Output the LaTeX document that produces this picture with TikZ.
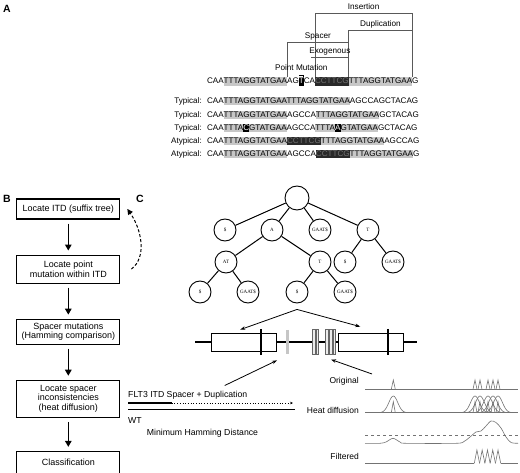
\documentclass[tikz,border=0pt]{standalone}
\usepackage{fontspec}
\setmainfont{Liberation Sans}
\newfontfamily\treefont{Liberation Serif}
\usetikzlibrary{positioning,arrows.meta}

\definecolor{repeatgray}{gray}{0.78}
\definecolor{exogray}{gray}{0.16}
\definecolor{plotgray}{gray}{0.45}

\begin{document}
\begin{tikzpicture}[
    x=1pt, y=-1pt,
    seq/.style={inner xsep=0pt, inner ysep=0.6pt, outer sep=0pt, anchor=west,
      font=\fontsize{8.1}{9}\selectfont, text height=5.9pt, text depth=1pt},
    after/.style={anchor=base west, at=(#1.base east)},
    rep/.style={seq, fill=repeatgray},
    exo/.style={seq, fill=exogray, text=black!55},
    pmut/.style={seq, fill=black, text=white},
    rowlab/.style={anchor=base east, inner sep=0pt, font=\fontsize{8.1}{9}\selectfont},
    lab/.style={inner sep=2pt, text depth=1.5pt, text=black, font=\fontsize{8.2}{9}\selectfont},
    bracket/.style={black!65, line width=0.6pt},
    panel/.style={font=\fontsize{10.5}{12}\selectfont\bfseries, inner sep=0pt},
    box/.style={rectangle, draw, line width=1.1pt, minimum width=103pt, align=center,
      inner sep=2pt, font=\fontsize{9}{9.5}\selectfont},
    flow/.style={-{Triangle[length=6pt,width=6.5pt]}, line width=1.3pt, shorten <=4pt, shorten >=4pt},
    loopback/.style={-{Triangle[length=5.5pt,width=5.5pt]}, line width=1pt, dash pattern=on 3pt off 2pt},
    tnode/.style={circle, draw, line width=0.9pt, minimum size=22pt, inner sep=0pt,
      font=\treefont\fontsize{5}{5}\selectfont},
    treeedge/.style={line width=1pt},
    ptr/.style={-{Stealth[length=5pt,width=3.5pt]}, line width=0.8pt},
    exon/.style={draw, line width=0.7pt, fill=white, minimum width=65pt, minimum height=18pt, inner sep=0pt},
    sig/.style={plotgray, line width=0.6pt},
    sublab/.style={inner sep=0pt, font=\fontsize{8.7}{10}\selectfont},
    plotlab/.style={anchor=east, inner sep=0pt, font=\fontsize{8.5}{10}\selectfont}
  ]

\useasboundingbox (0,0) rectangle (520,473);

% Panel letters
\node[panel] (pa) at (7,9) {A};
\node[panel] (pb) at (7,199) {B};
\node[panel] (pc) at (140,199) {C};

% Sequence with the ITD
\node[seq, anchor=base west] (m1) at (207,84) {CAA};
\node[rep, after=m1] (m2) {TTTAGGTATGAA};
\node[seq, after=m2] (m3) {AG};
\node[pmut, after=m3] (m4) {T};
\node[seq, after=m4] (m5) {CA};
\node[exo, after=m5] (m6) {CCTTCG};
\node[rep, after=m6] (m7) {TTTAGGTATGAA};
\node[seq, after=m7] (m8) {G};
\fill (m4.north west) rectangle ([yshift=2.5pt]m4.north east);
\draw[white, line width=0.4pt] ([xshift=0.6pt,yshift=1.2pt]m4.north west) -- ([xshift=-0.6pt,yshift=1.2pt]m4.north east);

% Brackets above the sequence
\coordinate (lvins) at (0,13.3);
\coordinate (lvdup) at (0,30.7);
\coordinate (lvspc) at (0,42.7);
\coordinate (lvexo) at (0,57.3);
\draw[bracket] (m6.north west) -- (m6.north west |- lvins) -- (m7.north east |- lvins) node[lab, midway, above] (tins) {Insertion} -- (m7.north east);
\draw[bracket] (m7.north west) -- (m7.north west |- lvdup) -- (m7.north east |- lvdup) node[lab, midway, above] (tdup) {Duplication};
\draw[bracket] (m3.north west) -- (m3.north west |- lvspc) -- (m6.north east |- lvspc) node[lab, midway, above] (tspc) {Spacer};
\draw[bracket] (m6.north west |- lvexo) ++(-4,0) -- (m6.north east |- lvexo) node[lab, midway, above] (texo) {Exogenous};
\node[lab, above=3pt of m4.north] (tpm) {Point Mutation};

% Typical and atypical reads
\node[rowlab] (lt1) at (202,103.9) {Typical:};
\node[seq, anchor=base west] (a1) at (207,103.9) {CAA};
\node[rep, after=a1] (a2) {TTTAGGTATGAATTTAGGTATGAA};
\node[seq, after=a2] (a3) {AGCCAGCTACAG};

\node[rowlab] (lt2) at (202,117.2) {Typical:};
\node[seq, anchor=base west] (b1) at (207,117.2) {CAA};
\node[rep, after=b1] (b2) {TTTAGGTATGAA};
\node[seq, after=b2] (b3) {AGCCA};
\node[rep, after=b3] (b4) {TTTAGGTATGAA};
\node[seq, after=b4] (b5) {GCTACAG};

\node[rowlab] (lt3) at (202,130.4) {Typical:};
\node[seq, anchor=base west] (c1) at (207,130.4) {CAA};
\node[rep, after=c1] (c2) {TTTA};
\node[pmut, after=c2] (c3) {C};
\node[rep, after=c3] (c4) {GTATGAA};
\node[seq, after=c4] (c5) {AGCCA};
\node[rep, after=c5] (c6) {TTTA};
\node[pmut, after=c6] (c7) {A};
\node[rep, after=c7] (c8) {GTATGAA};
\node[seq, after=c8] (c9) {GCTACAG};

\node[rowlab] (lt4) at (202,143.7) {Atypical:};
\node[seq, anchor=base west] (d1) at (207,143.7) {CAA};
\node[rep, after=d1] (d2) {TTTAGGTATGAA};
\node[exo, after=d2] (d3) {CCTTCG};
\node[rep, after=d3] (d4) {TTTAGGTATGAA};
\node[seq, after=d4] (d5) {AGCCAG};

\node[rowlab] (lt5) at (202,156.9) {Atypical:};
\node[seq, anchor=base west] (e1) at (207,156.9) {CAA};
\node[rep, after=e1] (e2) {TTTAGGTATGAA};
\node[seq, after=e2] (e3) {AGCCA};
\node[exo, after=e3] (e4) {CCTTCG};
\node[rep, after=e4] (e5) {TTTAGGTATGAA};
\node[seq, after=e5] (e6) {G};

% Pipeline
\node[box, minimum height=20pt] (itd) at (68.3,209) {Locate ITD (suffix tree)};
\node[box, minimum height=28pt, below=35pt of itd] (pmt) {Locate point\\mutation within ITD};
\node[box, minimum height=25pt, below=35pt of pmt] (ham) {Spacer mutations\\(Hamming comparison)};
\node[box, minimum height=37pt, below=35pt of ham] (heat) {Locate spacer\\inconsistencies\\(heat diffusion)};
\node[box, minimum height=22pt, below=33pt of heat] (cls) {Classification};

\draw[flow] (itd) -- (pmt);
\draw[flow] (pmt) -- (ham);
\draw[flow] (ham) -- (heat);
\draw[flow] (heat) -- (cls);
\draw[loopback] ([xshift=11pt]pmt.east) .. controls +(16,-12) and +(14,20) .. ([xshift=7pt]itd.east);

% Suffix tree
\node[tnode, minimum size=24pt] (root) at (297,198) {};
\node[tnode] (r1dol) at (225,230) {\$};
\node[tnode] (r1a) at (272,230) {A};
\node[tnode] (r1gaat) at (320,230) {GAAT\$};
\node[tnode] (r1t) at (368,230) {T};
\node[tnode] (r2at) at (226,262) {AT};
\node[tnode] (r2t) at (320,262) {T};
\node[tnode] (r2dol) at (345,262) {\$};
\node[tnode] (r2gaat) at (393,262) {GAAT\$};
\node[tnode] (r3dol) at (200,292) {\$};
\node[tnode] (r3gaat) at (248,292) {GAAT\$};
\node[tnode] (r3dolb) at (297,292) {\$};
\node[tnode] (r3gaatb) at (345,292) {GAAT\$};
\foreach \a/\b in {root/r1dol, root/r1a, root/r1gaat, root/r1t, r1a/r2at, r1a/r2t,
    r1t/r2dol, r1t/r2gaat, r2at/r3dol, r2at/r3gaat, r2t/r3dolb, r2t/r3gaatb}
  \draw[treeedge] (\a) -- (\b);

% Gene with ITD
\draw[line width=1.3pt] (195,342) -- (416.7,342);
\node[exon] (exl) at (244.2,342) {};
\node[exon] (exr) at (371.3,342) {};
\draw[line width=2.2pt] (261,329) -- (261,355);
\draw[line width=2.2pt] (388.3,329) -- (388.3,355);
\draw[gray!45, line width=2.4pt] (287.3,330) -- (287.3,354);
\foreach \bx in {312.2,315.8}
  \draw[fill=gray!15, draw=black!60, line width=0.5pt] (\bx,329) rectangle +(2.8,25);
\foreach \bx in {325.2,329,332.8}
  \draw[fill=gray!15, draw=black!60, line width=0.5pt] (\bx,329) rectangle +(2.8,25);

\draw[ptr] ([yshift=-6pt]r3dolb.south) -- ([xshift=-4pt,yshift=3pt]exl.north);
\draw[ptr] ([yshift=-6pt]r3dolb.south) -- ([xshift=-11pt,yshift=6pt]exr.north);

% Hamming comparison
\node[sublab, anchor=base west] (dupl) at (128,397) {FLT3 ITD Spacer + Duplication};
\draw[line width=1.6pt] (128,403) -- (171.7,403);
\draw[dotted, line width=0.7pt, -{Stealth[length=3pt,width=2.5pt]}] (171.7,403) -- (293,403);
\draw[line width=1.6pt] (128,409.5) -- (295,409.5);
\node[sublab, anchor=base west] (wt) at (128,423) {WT};
\node[sublab, anchor=base west] (mhd) at (146.7,435.7) {Minimum Hamming Distance};
\draw[ptr] ([xshift=37pt,yshift=5pt]dupl.north) -- ([yshift=-9pt]exl.south east);

% Heat diffusion signals
\coordinate (orig) at (372,374);
\coordinate (grp2) at (331,359.5);
\draw[ptr] (orig) -- (grp2);

\node[plotlab] (lorig) at (359,381.7) {Original};
\node[plotlab] (lheat) at (359,410) {Heat diffusion};
\node[plotlab] (lfilt) at (359,456.7) {Filtered};

\draw[sig] (365,389.3) -- (518,389.3);
\foreach \c in {393.3,475,480,488,493,498}
  \draw[sig] (\c-2,389.3) -- (\c,380) -- (\c+2,389.3);

\draw[sig] (365,412.7) -- (518,412.7);
\foreach \c in {393.3,475,480,488,493,498} {
  \draw[sig] plot[domain=-14:14, samples=29, smooth] ({\c+\x}, {412.7-16.7*exp(-(\x*\x)/40)});
  \draw[sig] (\c-2,412.7) -- (\c,401.7) -- (\c+2,412.7);
}

\draw[sig, dashed] (365,435) -- (518,435);
\draw[sig] plot[smooth, tension=0.5] coordinates {(365,443.3) (380,443.3) (386,442) (393,438.3)
  (400,442) (406,443.3) (456,443.3) (464,441.5) (470,437) (476,432) (481,431) (486,426)
  (491,421) (496,422.5) (501,428) (506,437) (511,442.5) (518,443.3)};

\draw[sig] (365,463.3) -- (474.3,463.3);
\foreach \i in {0,...,4}
  \draw[sig] (474.3+5.28*\i,463.3) -- (476.9+5.28*\i,450) -- (479.6+5.28*\i,463.3);
\draw[sig] (500.7,463.3) -- (518,463.3);

\end{tikzpicture}
\end{document}
